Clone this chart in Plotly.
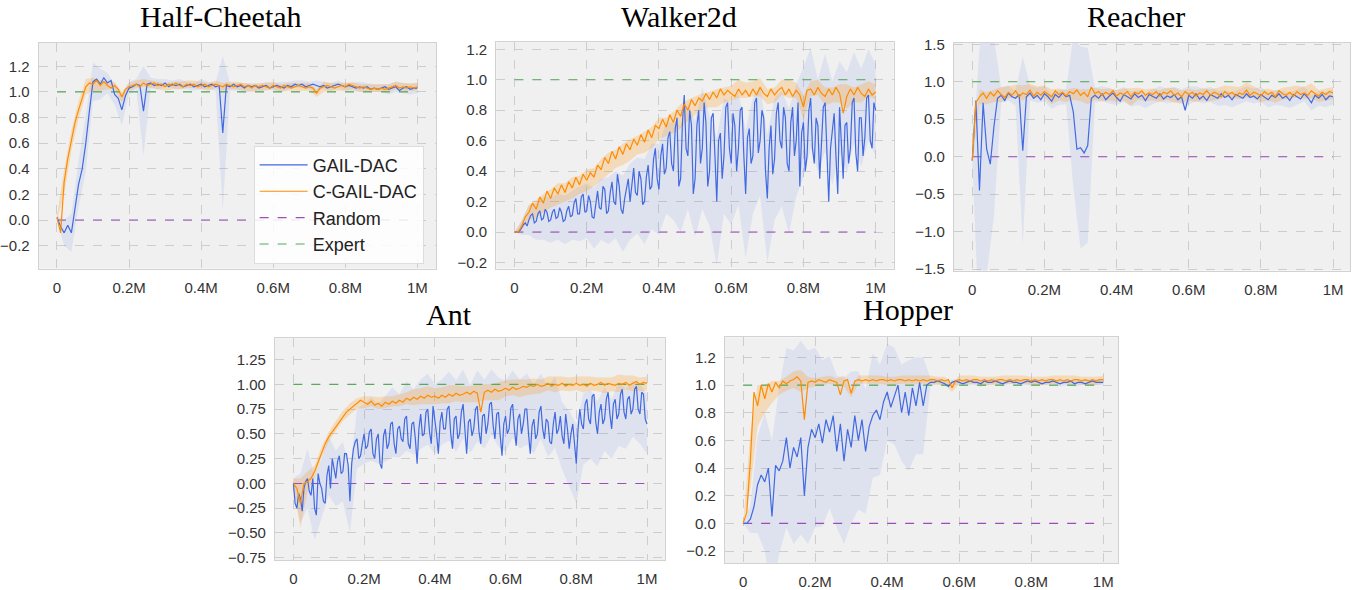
import plotly.graph_objects as go

TOTAL_STEPS = 1000000


def step_grid(n):
    '''Evenly spaced evaluation points over the 1M training steps'''
    return [i * TOTAL_STEPS / (n - 1) for i in range(n)]


RANDOM_SCORE = 0.0
EXPERT_SCORE = 1.0

X_TICKS = [0, 200000, 400000, 600000, 800000, 1000000]
X_TICK_TEXT = ['0', '0.2M', '0.4M', '0.6M', '0.8M', '1M']

# Curves are read every 10k steps (every 5k for the noisiest ones),
# the shaded spread every 20k steps.

# ---- Half-Cheetah ----
HC_GAIL = [
    0.02, -0.05, -0.10, -0.04, -0.10, 0.10, 0.28, 0.40, 0.60, 0.85,
    1.08, 1.10, 1.06, 1.11, 1.07, 1.09, 0.98, 0.95, 0.86, 0.97,
    1.03, 1.04, 1.06, 1.05, 0.85, 1.06, 1.07, 1.05, 1.06, 1.05,
    1.07, 1.04, 1.06, 1.05, 1.06, 1.04, 1.05, 1.06, 1.04, 1.05,
    1.06, 1.04, 1.05, 1.06, 1.04, 1.05, 0.68, 1.05, 1.04, 1.06,
    1.04, 1.05, 1.03, 1.05, 1.04, 1.05, 1.03, 1.04, 1.05, 1.03,
    1.04, 1.05, 1.04, 1.03, 1.05, 1.04, 1.06, 1.05, 1.06, 1.04,
    1.05, 1.06, 1.05, 1.04, 1.05, 1.03, 1.04, 1.05, 1.06, 1.05,
    1.04, 1.05, 1.04, 1.03, 1.04, 1.03, 1.04, 1.02, 1.03, 1.02,
    1.03, 1.04, 1.02, 1.03, 1.04, 1.01, 1.03, 1.04, 1.02, 1.03,
    1.03]
HC_CGAIL = [
    0.02, -0.10, 0.30, 0.48, 0.62, 0.76, 0.86, 0.96, 1.04, 1.07,
    1.06, 1.09, 1.05, 1.08, 1.05, 1.03, 1.05, 1.02, 0.96, 1.02,
    1.04, 1.05, 1.06, 1.04, 1.07, 1.05, 1.06, 1.07, 1.05, 1.06,
    1.04, 1.06, 1.05, 1.07, 1.05, 1.04, 1.06, 1.05, 1.06, 1.04,
    1.05, 1.06, 1.04, 1.05, 1.06, 1.05, 1.04, 1.06, 1.05, 1.04,
    1.05, 1.06, 1.04, 1.05, 1.03, 1.05, 1.04, 1.05, 1.04, 1.03,
    1.05, 1.04, 1.03, 1.05, 1.04, 1.03, 1.04, 1.05, 1.04, 1.03,
    1.04, 1.03, 0.99, 1.03, 1.04, 1.05, 1.04, 1.03, 1.04, 1.05,
    1.04, 1.06, 1.05, 1.04, 1.03, 1.04, 1.03, 1.02, 1.03, 1.02,
    1.03, 1.02, 1.03, 1.04, 1.05, 1.03, 1.04, 1.03, 1.04, 1.03,
    1.04]
HC_GAIL_STD = [
    0.02, 0.10, 0.15, 0.18, 0.22, 0.15, 0.12, 0.08, 0.08, 0.12,
    0.05, 0.04, 0.35, 0.04, 0.04, 0.03, 0.03, 0.04, 0.03, 0.03,
    0.04, 0.03, 0.03, 0.60, 0.03, 0.03, 0.04, 0.03, 0.03, 0.03,
    0.03, 0.04, 0.03, 0.03, 0.03, 0.03, 0.04, 0.03, 0.03, 0.03,
    0.03, 0.03, 0.04, 0.03, 0.03, 0.03, 0.04, 0.04, 0.04, 0.04,
    0.04]
HC_CGAIL_STD = [
    0.02, 0.10, 0.08, 0.07, 0.06, 0.05, 0.04, 0.03, 0.03, 0.04,
    0.03, 0.03, 0.03, 0.03, 0.03, 0.03, 0.03, 0.03, 0.03, 0.03,
    0.03, 0.03, 0.03, 0.03, 0.03, 0.03, 0.03, 0.03, 0.03, 0.03,
    0.03, 0.03, 0.03, 0.03, 0.03, 0.03, 0.03, 0.04, 0.03, 0.03,
    0.03, 0.03, 0.03, 0.03, 0.03, 0.03, 0.03, 0.03, 0.03, 0.03,
    0.03]

# ---- Walker2d ----  (GAIL-DAC every 5k)
W_GAIL = [
    0.00, 0.00, 0.00, 0.01, 0.03, 0.05, 0.06, 0.04, 0.08, 0.11,
    0.12, 0.06, 0.07, 0.12, 0.14, 0.08, 0.09, 0.15, 0.13, 0.07,
    0.08, 0.13, 0.15, 0.09, 0.10, 0.16, 0.13, 0.07, 0.08, 0.14,
    0.17, 0.10, 0.11, 0.19, 0.22, 0.12, 0.12, 0.23, 0.25, 0.13,
    0.14, 0.24, 0.20, 0.10, 0.09, 0.18, 0.27, 0.16, 0.15, 0.30,
    0.28, 0.12, 0.14, 0.26, 0.33, 0.20, 0.18, 0.38, 0.30, 0.15,
    0.12, 0.22, 0.28, 0.35, 0.20, 0.30, 0.42, 0.26, 0.24, 0.40,
    0.35, 0.18, 0.20, 0.36, 0.44, 0.28, 0.30, 0.48, 0.55, 0.35,
    0.28, 0.50, 0.58, 0.38, 0.42, 0.62, 0.66, 0.45, 0.40, 0.68,
    0.75, 0.30, 0.35, 0.72, 0.90, 0.55, 0.50, 0.80, 0.70, 0.25,
    0.35, 0.70, 0.80, 0.45, 0.55, 0.85, 0.72, 0.30, 0.40, 0.75,
    0.78, 0.50, 0.20, 0.60, 0.65, 0.35, 0.50, 0.82, 0.85, 0.55,
    0.45, 0.78, 0.70, 0.40, 0.55, 0.80, 0.82, 0.50, 0.25, 0.62,
    0.68, 0.45, 0.50, 0.85, 0.88, 0.52, 0.60, 0.80, 0.75, 0.40,
    0.22, 0.55, 0.70, 0.38, 0.48, 0.78, 0.85, 0.60, 0.55, 0.82,
    0.75, 0.45, 0.40, 0.72, 0.82, 0.50, 0.60, 0.85, 0.30, 0.65,
    0.72, 0.40, 0.50, 0.80, 0.88, 0.55, 0.45, 0.75, 0.70, 0.35,
    0.58, 0.82, 0.85, 0.50, 0.20, 0.55, 0.65, 0.78, 0.50, 0.25,
    0.82, 0.60, 0.35, 0.70, 0.72, 0.45, 0.55, 0.85, 0.88, 0.52,
    0.40, 0.75, 0.75, 0.50, 0.62, 0.88, 0.90, 0.60, 0.55, 0.85,
    0.80]
W_CGAIL = [
    0.00, 0.00, 0.04, 0.10, 0.13, 0.19, 0.15, 0.23, 0.19, 0.27,
    0.22, 0.29, 0.25, 0.31, 0.26, 0.33, 0.29, 0.36, 0.31, 0.38,
    0.34, 0.39, 0.36, 0.44, 0.41, 0.49, 0.45, 0.53, 0.48, 0.56,
    0.51, 0.58, 0.54, 0.61, 0.57, 0.64, 0.59, 0.67, 0.62, 0.70,
    0.68, 0.74, 0.69, 0.77, 0.72, 0.80, 0.76, 0.84, 0.80, 0.87,
    0.83, 0.88, 0.86, 0.91, 0.87, 0.92, 0.88, 0.94, 0.90, 0.93,
    0.91, 0.89, 0.94, 0.90, 0.93, 0.89, 0.94, 0.90, 0.95, 0.91,
    0.89, 0.94, 0.90, 0.93, 0.95, 0.90, 0.94, 0.89, 0.93, 0.90,
    0.82, 0.93, 0.94, 0.90, 0.95, 0.91, 0.89, 0.94, 0.90, 0.95,
    0.91, 0.78, 0.89, 0.94, 0.90, 0.95, 0.91, 0.89, 0.94, 0.90,
    0.92]
W_GAIL_STD = [
    0.00, 0.05, 0.10, 0.12, 0.14, 0.15, 0.15, 0.16, 0.16, 0.18,
    0.18, 0.20, 0.20, 0.22, 0.22, 0.25, 0.25, 0.25, 0.28, 0.28,
    0.30, 0.30, 0.32, 0.35, 0.35, 0.38, 0.40, 0.36, 0.42, 0.38,
    0.40, 0.37, 0.42, 0.38, 0.36, 0.42, 0.40, 0.38, 0.41, 0.37,
    0.36, 0.33, 0.30, 0.32, 0.34, 0.30, 0.33, 0.30, 0.32, 0.30,
    0.30]
W_CGAIL_STD = [
    0.00, 0.03, 0.05, 0.06, 0.06, 0.06, 0.07, 0.06, 0.07, 0.06,
    0.07, 0.06, 0.07, 0.07, 0.06, 0.07, 0.07, 0.06, 0.07, 0.07,
    0.07, 0.06, 0.07, 0.08, 0.07, 0.06, 0.05, 0.05, 0.06, 0.05,
    0.05, 0.06, 0.05, 0.05, 0.06, 0.05, 0.05, 0.05, 0.06, 0.05,
    0.08, 0.05, 0.05, 0.06, 0.05, 0.06, 0.08, 0.05, 0.06, 0.05,
    0.05]

# ---- Reacher ----
R_GAIL = [
    -0.05, 0.75, -0.45, 0.72, 0.10, -0.10, 0.40, 0.78, 0.82, 0.75,
    0.85, 0.80, 0.78, 0.83, 0.08, 0.80, 0.85, 0.78, 0.82, 0.76,
    0.84, 0.80, 0.74, 0.83, 0.79, 0.85, 0.80, 0.82, 0.60, 0.10,
    0.12, 0.05, 0.15, 0.78, 0.82, 0.78, 0.84, 0.76, 0.81, 0.85,
    0.79, 0.74, 0.83, 0.80, 0.77, 0.84, 0.79, 0.82, 0.75, 0.83,
    0.80, 0.78, 0.84, 0.77, 0.81, 0.79, 0.83, 0.76, 0.80, 0.62,
    0.82, 0.78, 0.84, 0.77, 0.81, 0.75, 0.83, 0.80, 0.78, 0.84,
    0.79, 0.82, 0.76, 0.83, 0.80, 0.78, 0.84, 0.79, 0.81, 0.77,
    0.83, 0.80, 0.76, 0.82, 0.79, 0.84, 0.78, 0.81, 0.75, 0.83,
    0.80, 0.77, 0.84, 0.79, 0.72, 0.82, 0.78, 0.83, 0.76, 0.81,
    0.80]
R_CGAIL = [
    -0.05, 0.72, 0.80, 0.85, 0.78, 0.86, 0.81, 0.88, 0.83, 0.79,
    0.86, 0.82, 0.88, 0.80, 0.85, 0.83, 0.89, 0.81, 0.86, 0.82,
    0.87, 0.84, 0.80, 0.88, 0.83, 0.86, 0.81, 0.87, 0.84, 0.89,
    0.82, 0.86, 0.80, 0.93, 0.84, 0.87, 0.82, 0.86, 0.83, 0.88,
    0.81, 0.85, 0.83, 0.87, 0.80, 0.86, 0.84, 0.88, 0.82, 0.85,
    0.83, 0.87, 0.81, 0.86, 0.84, 0.88, 0.82, 0.85, 0.80, 0.87,
    0.83, 0.86, 0.81, 0.85, 0.83, 0.88, 0.82, 0.86, 0.84, 0.80,
    0.87, 0.83, 0.86, 0.81, 0.85, 0.83, 0.89, 0.82, 0.86, 0.84,
    0.81, 0.87, 0.83, 0.86, 0.80, 0.88, 0.84, 0.82, 0.86, 0.81,
    0.87, 0.83, 0.85, 0.82, 0.88, 0.84, 0.81, 0.86, 0.83, 0.87,
    0.85]
R_GAIL_STD = [
    0.02, 1.90, 1.60, 1.20, 0.10, 0.10, 0.10, 1.25, 0.10, 0.10,
    0.10, 0.10, 0.10, 0.10, 1.00, 1.35, 1.30, 0.10, 0.10, 0.10,
    0.10, 0.10, 0.10, 0.10, 0.10, 0.10, 0.10, 0.10, 0.10, 0.10,
    0.12, 0.10, 0.10, 0.10, 0.10, 0.10, 0.10, 0.10, 0.10, 0.10,
    0.10, 0.10, 0.10, 0.10, 0.10, 0.10, 0.10, 0.10, 0.10, 0.10,
    0.10]
R_CGAIL_STD = [
    0.02, 0.10, 0.08, 0.08, 0.10, 0.08, 0.08, 0.10, 0.08, 0.08,
    0.08, 0.10, 0.08, 0.08, 0.08, 0.08, 0.10, 0.08, 0.08, 0.08,
    0.08, 0.08, 0.12, 0.08, 0.08, 0.08, 0.08, 0.08, 0.10, 0.08,
    0.08, 0.08, 0.08, 0.08, 0.08, 0.08, 0.08, 0.08, 0.10, 0.08,
    0.08, 0.08, 0.08, 0.08, 0.08, 0.08, 0.08, 0.10, 0.08, 0.08,
    0.08]

# ---- Ant ----  (GAIL-DAC every 5k)
A_GAIL = [
    0.00, -0.20, -0.25, -0.10, -0.15, -0.28, -0.05, 0.02, 0.05, -0.08,
    -0.12, 0.05, -0.25, -0.32, 0.10, 0.00, -0.05, -0.18, -0.20, 0.08,
    0.18, -0.05, 0.25, 0.15, 0.05, 0.22, 0.28, 0.10, 0.12, 0.30,
    0.30, 0.18, -0.18, 0.20, 0.35, 0.42, 0.45, 0.25, 0.28, 0.40,
    0.50, 0.35, 0.38, 0.52, 0.55, 0.30, 0.25, 0.45, 0.50, 0.20,
    0.15, 0.48, 0.55, 0.35, 0.40, 0.60, 0.62, 0.40, 0.30, 0.55,
    0.58, 0.45, 0.42, 0.65, 0.68, 0.40, 0.35, 0.60, 0.62, 0.45,
    0.20, 0.55, 0.70, 0.48, 0.50, 0.72, 0.75, 0.52, 0.40, 0.78,
    0.65, 0.50, 0.30, 0.62, 0.72, 0.55, 0.55, 0.75, 0.78, 0.50,
    0.35, 0.65, 0.68, 0.45, 0.50, 0.72, 0.80, 0.55, 0.30, 0.62,
    0.65, 0.48, 0.55, 0.75, 0.78, 0.52, 0.40, 0.68, 0.70, 0.50,
    0.60, 0.80, 0.82, 0.58, 0.45, 0.70, 0.72, 0.48, 0.28, 0.60,
    0.68, 0.50, 0.55, 0.76, 0.80, 0.55, 0.38, 0.65, 0.70, 0.50,
    0.60, 0.75, 0.75, 0.50, 0.30, 0.58, 0.65, 0.45, 0.50, 0.72,
    0.78, 0.55, 0.45, 0.65, 0.62, 0.42, 0.40, 0.60, 0.72, 0.50,
    0.55, 0.68, 0.48, 0.40, 0.70, 0.55, 0.35, 0.50, 0.60, 0.40,
    0.20, 0.55, 0.75, 0.60, 0.55, 0.80, 0.85, 0.65, 0.60, 0.88,
    0.90, 0.62, 0.50, 0.72, 0.80, 0.60, 0.65, 0.85, 0.92, 0.70,
    0.55, 0.80, 0.85, 0.65, 0.70, 0.90, 0.95, 0.72, 0.65, 0.85,
    0.88, 0.70, 0.75, 0.95, 0.98, 0.75, 0.70, 0.92, 0.90, 0.65,
    0.60]
A_CGAIL = [
    0.00, -0.05, -0.20, 0.00, 0.02, 0.05, 0.12, 0.22, 0.32, 0.40,
    0.47, 0.52, 0.58, 0.62, 0.68, 0.72, 0.75, 0.78, 0.81, 0.84,
    0.82, 0.80, 0.83, 0.79, 0.81, 0.78, 0.82, 0.80, 0.83, 0.81,
    0.84, 0.82, 0.86, 0.84, 0.87, 0.85, 0.88, 0.86, 0.89, 0.87,
    0.88, 0.86, 0.89, 0.87, 0.90, 0.88, 0.91, 0.89, 0.90, 0.92,
    0.90, 0.93, 0.91, 0.72, 0.92, 0.94, 0.92, 0.95, 0.93, 0.94,
    0.96, 0.94, 0.97, 0.95, 0.96, 0.98, 0.97, 0.99, 0.98, 1.00,
    0.98, 0.99, 1.01, 0.98, 1.00, 0.99, 1.01, 0.98, 1.00, 0.99,
    1.01, 0.99, 1.00, 0.98, 1.01, 0.99, 1.00, 1.02, 0.99, 1.01,
    1.00, 0.99, 1.01, 1.00, 1.02, 0.99, 1.01, 1.03, 1.00, 1.02,
    1.01]
A_GAIL_STD = [
    0.05, 0.25, 0.30, 0.32, 0.30, 0.30, 0.28, 0.30, 0.32, 0.30,
    0.30, 0.32, 0.30, 0.33, 0.35, 0.32, 0.35, 0.33, 0.35, 0.36,
    0.35, 0.33, 0.35, 0.36, 0.35, 0.34, 0.36, 0.35, 0.33, 0.35,
    0.36, 0.34, 0.35, 0.36, 0.35, 0.33, 0.35, 0.36, 0.34, 0.38,
    0.40, 0.36, 0.35, 0.33, 0.32, 0.30, 0.32, 0.30, 0.28, 0.30,
    0.30]
A_CGAIL_STD = [
    0.05, 0.25, 0.10, 0.06, 0.05, 0.05, 0.05, 0.05, 0.06, 0.05,
    0.06, 0.05, 0.06, 0.06, 0.05, 0.06, 0.06, 0.08, 0.08, 0.09,
    0.08, 0.08, 0.09, 0.08, 0.08, 0.08, 0.09, 0.08, 0.08, 0.09,
    0.08, 0.08, 0.09, 0.08, 0.08, 0.07, 0.07, 0.08, 0.07, 0.07,
    0.07, 0.08, 0.07, 0.07, 0.08, 0.07, 0.09, 0.07, 0.08, 0.07,
    0.07]

# ---- Hopper ----
H_GAIL = [
    0.00, 0.00, 0.03, 0.12, 0.28, 0.35, 0.30, 0.40, 0.05, 0.42,
    0.38, 0.45, 0.62, 0.40, 0.55, 0.48, 0.62, 0.20, 0.55, 0.68,
    0.62, 0.72, 0.58, 0.75, 0.66, 0.78, 0.52, 0.72, 0.45, 0.68,
    0.55, 0.78, 0.60, 0.75, 0.52, 0.70, 0.78, 0.82, 0.75, 0.88,
    0.95, 0.84, 0.92, 1.00, 0.80, 0.95, 0.78, 0.98, 0.85, 1.02,
    0.85, 1.00, 1.02, 1.02, 1.03, 1.02, 1.01, 0.99, 1.02, 1.03,
    1.02, 1.01, 1.02, 1.03, 1.02, 1.02, 1.01, 1.03, 1.02, 1.02,
    1.03, 1.02, 1.01, 1.02, 1.03, 1.02, 1.02, 1.01, 1.02, 1.03,
    1.02, 1.03, 1.02, 1.01, 1.02, 1.02, 1.03, 1.02, 1.01, 1.02,
    1.02, 1.03, 1.01, 1.02, 1.02, 1.01, 1.02, 1.03, 1.02, 1.02,
    1.02]
H_CGAIL = [
    0.00, 0.08, 0.45, 0.95, 0.85, 1.00, 0.90, 1.01, 0.95, 1.02,
    0.98, 1.03, 1.01, 1.03, 1.04, 1.06, 1.03, 0.75, 1.02, 1.03,
    1.02, 1.04, 1.03, 1.02, 1.04, 1.03, 1.02, 0.93, 1.03, 1.04,
    0.94, 1.03, 1.04, 1.03, 1.04, 1.03, 1.04, 1.03, 1.04, 1.04,
    1.03, 1.04, 1.03, 1.04, 1.04, 1.03, 1.04, 1.03, 1.04, 1.03,
    1.04, 1.03, 1.04, 1.04, 1.03, 1.04, 1.03, 1.04, 0.98, 1.03,
    1.04, 1.03, 1.04, 1.03, 1.04, 1.04, 1.03, 1.04, 1.03, 1.04,
    1.03, 1.04, 1.04, 1.03, 1.04, 1.03, 1.04, 1.03, 1.04, 1.04,
    1.03, 1.04, 1.03, 1.04, 1.03, 1.04, 1.04, 1.03, 1.04, 1.03,
    1.04, 1.03, 1.04, 1.04, 1.03, 1.04, 1.03, 1.04, 1.03, 1.04,
    1.04]
H_GAIL_STD = [
    0.00, 0.10, 0.35, 0.50, 0.55, 0.60, 0.65, 0.70, 0.70, 0.70,
    0.65, 0.60, 0.55, 0.55, 0.60, 0.55, 0.50, 0.45, 0.45, 0.40,
    0.35, 0.35, 0.35, 0.40, 0.35, 0.35, 0.03, 0.02, 0.02, 0.02,
    0.02, 0.02, 0.02, 0.02, 0.02, 0.02, 0.02, 0.02, 0.02, 0.02,
    0.02, 0.02, 0.02, 0.02, 0.02, 0.02, 0.02, 0.02, 0.02, 0.02,
    0.02]
H_CGAIL_STD = [
    0.00, 0.20, 0.15, 0.10, 0.08, 0.05, 0.05, 0.06, 0.08, 0.04,
    0.03, 0.03, 0.03, 0.03, 0.04, 0.03, 0.03, 0.03, 0.03, 0.03,
    0.03, 0.03, 0.03, 0.03, 0.03, 0.03, 0.03, 0.03, 0.03, 0.03,
    0.03, 0.03, 0.03, 0.03, 0.03, 0.03, 0.03, 0.03, 0.03, 0.03,
    0.03, 0.03, 0.03, 0.03, 0.03, 0.03, 0.03, 0.03, 0.03, 0.03,
    0.03]

BLUE = '#4169E1'
ORANGE = '#FF8C00'
BLUE_FILL = 'rgba(65,105,225,0.10)'
ORANGE_FILL = 'rgba(255,140,0,0.22)'
RANDOM_COLOR = '#9c4dbb'
EXPERT_COLOR = '#5aaa5a'

SANS = 'Liberation Sans, Arial, sans-serif'
SERIF = 'Liberation Serif, Times New Roman, serif'

# (title, gail, c-gail, gail spread, c-gail spread, x domain, y domain,
#  x range, y range, y ticks, y format, title centre in px)
PANELS = [
    ('Half-Cheetah', HC_GAIL, HC_CGAIL, HC_GAIL_STD, HC_CGAIL_STD,
     [0.0271, 0.3208], [0.5458, 0.9378], [-0.0507, 1.0526], [-0.379, 1.383],
     [-0.2, 0.0, 0.2, 0.4, 0.6, 0.8, 1.0, 1.2], '.1f', (219, 10)),
    ('Walker2d', W_GAIL, W_CGAIL, W_GAIL_STD, W_CGAIL_STD,
     [0.3650, 0.6586], [0.5458, 0.9390], [-0.0506, 1.05], [-0.24, 1.247],
     [-0.2, 0.0, 0.2, 0.4, 0.6, 0.8, 1.0, 1.2], '.1f', (678, 10)),
    ('Reacher', R_GAIL, R_CGAIL, R_GAIL_STD, R_CGAIL_STD,
     [0.7030, 0.9956], [0.5424, 0.9378], [-0.051, 1.047], [-1.52, 1.52],
     [-1.5, -1.0, -0.5, 0.0, 0.5, 1.0, 1.5], '.1f', (1136, 10)),
    ('Ant', A_GAIL, A_CGAIL, A_GAIL_STD, A_CGAIL_STD,
     [0.2016, 0.4897], [0.0395, 0.4249], [-0.052, 1.051], [-0.775, 1.465],
     [-0.75, -0.5, -0.25, 0.0, 0.25, 0.5, 0.75, 1.0, 1.25], '.2f', (448, 315)),
    ('Hopper', H_GAIL, H_CGAIL, H_GAIL_STD, H_CGAIL_STD,
     [0.5339, 0.8245], [0.0339, 0.4266], [-0.0507, 1.042], [-0.29, 1.346],
     [-0.2, 0.0, 0.2, 0.4, 0.6, 0.8, 1.0, 1.2], '.1f', (907, 310)),
]

W, H = 1356, 590

fig = go.Figure()
annotations = []

for n, (title, gail, cgail, gail_std, cgail_std, xdom, ydom, xr, yr,
        yticks, yfmt, tpos) in enumerate(PANELS, start=1):
    xa = 'x' if n == 1 else f'x{n}'
    ya = 'y' if n == 1 else f'y{n}'
    first = n == 1

    # shaded spread around the mean
    for mean, std, fill in ((gail, gail_std, BLUE_FILL), (cgail, cgail_std, ORANGE_FILL)):
        stride = (len(mean) - 1) // (len(std) - 1)
        mid = mean[::stride]
        band_x = step_grid(len(std))
        upper = [m + s for m, s in zip(mid, std)]
        lower = [m - s for m, s in zip(mid, std)]
        fig.add_trace(go.Scatter(
            x=band_x + band_x[::-1], y=upper + lower[::-1],
            fill='toself', fillcolor=fill, line=dict(width=0),
            hoverinfo='skip', showlegend=False, xaxis=xa, yaxis=ya))

    # random / expert reference levels
    fig.add_trace(go.Scatter(
        x=[0, TOTAL_STEPS], y=[RANDOM_SCORE, RANDOM_SCORE], mode='lines',
        line=dict(color=RANDOM_COLOR, width=1.1, dash='dash'),
        name='Random', legendrank=3, showlegend=first, xaxis=xa, yaxis=ya))
    fig.add_trace(go.Scatter(
        x=[0, TOTAL_STEPS], y=[EXPERT_SCORE, EXPERT_SCORE], mode='lines',
        line=dict(color=EXPERT_COLOR, width=1.1, dash='dash'),
        name='Expert', legendrank=4, showlegend=first, xaxis=xa, yaxis=ya))

    # mean curves
    fig.add_trace(go.Scatter(
        x=step_grid(len(gail)), y=gail, mode='lines',
        line=dict(color=BLUE, width=1.2),
        name='GAIL-DAC', legendrank=1, showlegend=first, xaxis=xa, yaxis=ya))
    fig.add_trace(go.Scatter(
        x=step_grid(len(cgail)), y=cgail, mode='lines',
        line=dict(color=ORANGE, width=1.2),
        name='C-GAIL-DAC', legendrank=2, showlegend=first, xaxis=xa, yaxis=ya))

    axis_common = dict(
        showgrid=True, gridcolor='#cdcdcd', griddash='dash', gridwidth=0.8,
        zeroline=False, showline=True, linecolor='#d2d2d2', linewidth=1,
        mirror=True, ticks='outside', ticklen=5, tickcolor='rgba(0,0,0,0)',
        tickfont=dict(family=SANS, size=15, color='#333333'))
    fig.layout[f'xaxis{"" if first else n}'] = dict(
        axis_common, domain=xdom, anchor=ya,
        range=[xr[0] * TOTAL_STEPS, xr[1] * TOTAL_STEPS],
        tickvals=X_TICKS, ticktext=X_TICK_TEXT)
    fig.layout[f'yaxis{"" if first else n}'] = dict(
        axis_common, domain=ydom, anchor=xa, range=yr,
        tickvals=yticks, tickformat=yfmt)

    annotations.append(dict(
        text=title, x=tpos[0] / W, y=1 - tpos[1] / H, xref='paper', yref='paper',
        xanchor='center', yanchor='middle', showarrow=False,
        font=dict(family=SERIF, size=30, color='black')))

fig.update_layout(
    width=W, height=H,
    margin=dict(l=0, r=0, t=0, b=0),
    paper_bgcolor='white',
    plot_bgcolor='#f0f0f0',
    annotations=annotations,
    legend=dict(
        x=252 / W, y=1 - 142 / H, xanchor='left', yanchor='top',
        bgcolor='rgba(255,255,255,0.85)', bordercolor='#dddddd', borderwidth=1,
        font=dict(family=SANS, size=18, color='#222222'),
        itemwidth=48, traceorder='normal'),
)

# drop the page's default body margin so the figure sits at the window corner
fig.write_html('out.html', config={'displayModeBar': False},
               post_script="document.body.style.margin='0px';")
